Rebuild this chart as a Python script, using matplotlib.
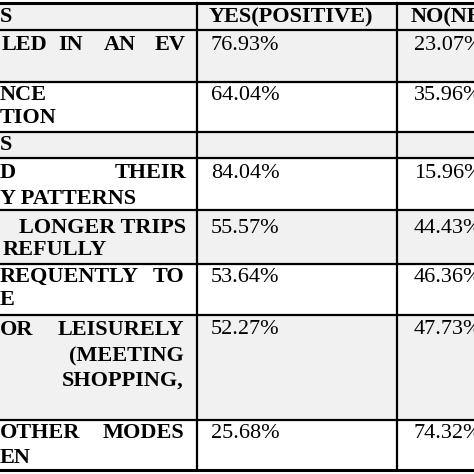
import matplotlib
matplotlib.use("Agg")
import matplotlib.pyplot as plt

# table contents (cropped view of a survey table)
header = ["S", "YES(POSITIVE)", "NO(NE"]
yes_vals = ["76.93%", "64.04%", "", "84.04%", "55.57%", "53.64%", "52.27%", "25.68%"]
no_vals = ["23.07%", "35.96%", "", "15.96%", "44.43%", "46.36%", "47.73%", "74.32%"]
# first-column text fragments: (text, x, y, align)
label_words = [
    [("LED", 2, 45, "left"), ("IN", 58, 45, "left"), ("AN", 104, 45, "left"), ("EV", 186, 45, "right")],
    [("NCE", 0, 95, "left"), ("TION", 0, 118, "left")],
    [("S", 0, 145, "left")],
    [("D", 0, 173, "left"), ("THEIR", 186, 173, "right"), ("Y PATTERNS", 0, 199, "left")],
    [("LONGER TRIPS", 186, 228, "right"), ("REFULLY", 3, 250, "left")],
    [("REQUENTLY", 0, 277, "left"), ("TO", 184, 277, "right"), ("E", 0, 300, "left")],
    [("OR", 0, 330, "left"), ("LEISURELY", 184, 330, "right"),
     ("(MEETING", 184, 356, "right"), ("SHOPPING,", 184, 381, "right")],
    [("OTHER", 0, 433, "left"), ("MODES", 184, 433, "right"), ("EN", 0, 458, "left")],
]
row_edges = [3, 30, 82, 132, 158, 210, 264, 315, 420, 470]
shaded = [True, True, False, True, False, True, False, True, False]
value_y = [45, 95, 145, 173, 228, 277, 330, 433]
col_edges = [197, 397]

SHADE = "#f1f1f1"
FONT = "Liberation Serif"

fig = plt.figure(figsize=(4.74, 4.74), dpi=100)
ax = fig.add_axes([0, 0, 1, 1])
ax.set_xlim(0, 474)
ax.set_ylim(474, 0)
ax.axis("off")

for i, sh in enumerate(shaded):
    if sh:
        ax.axhspan(row_edges[i], row_edges[i + 1], color=SHADE, zorder=0)
for i, y in enumerate(row_edges):
    ax.axhline(y, color="black", lw=2.2 if i in (0, len(row_edges) - 1) else 1.6)
for x in col_edges:
    ax.axvline(x, ymin=1 - 470 / 474, ymax=1 - 3 / 474, color="black", lw=1.6)

kw = dict(fontfamily=FONT, fontsize=16, va="center")
ax.text(0, 17, header[0], fontweight="bold", **kw)
ax.text(209, 17, header[1], fontweight="bold", **kw)
ax.text(411, 17, header[2], fontweight="bold", **kw)

for words in label_words:
    for t, x, y, ha in words:
        ax.text(x, y, t, ha=ha, fontweight="bold", **kw)

for y, a, b in zip(value_y, yes_vals, no_vals):
    ax.text(211, y, a, **kw)
    ax.text(414, y, b, **kw)

fig.savefig("out.png", dpi=100)
